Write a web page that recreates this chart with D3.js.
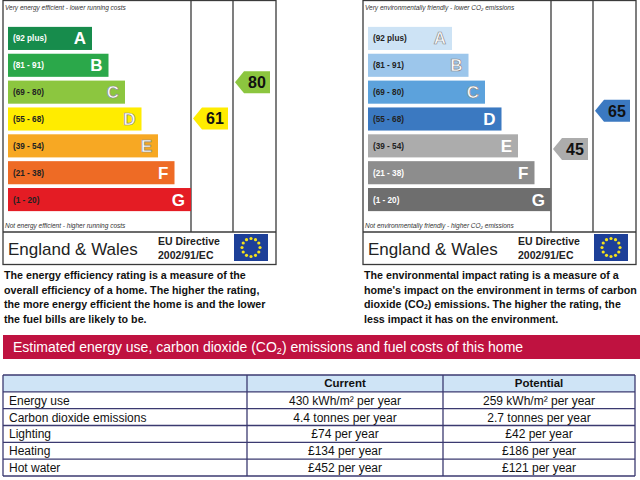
<!DOCTYPE html>
<html>
<head>
<meta charset="utf-8">
<script src="https://cdn.jsdelivr.net/npm/d3@7"></script>
<style>
  body { margin: 0; background: #fff; }
  svg { display: block; }
  text { font-family: "Liberation Sans", Arial, sans-serif; }
</style>
</head>
<body>
<svg id="vis-svg" width="640" height="480"></svg>
<script>
// band letters and the rating ranges they cover
const bandLetters = ['A', 'B', 'C', 'D', 'E', 'F', 'G'];
const bandRanges = ['(92 plus)', '(81 - 91)', '(69 - 80)', '(55 - 68)', '(39 - 54)', '(21 - 38)', '(1 - 20)'];
const bandMins = [92, 81, 69, 55, 39, 21, 1];

// colours of the two charts
const energyColours = ['#178c4c', '#2ba84a', '#8cc63f', '#ffec00', '#f7a823', '#ee6b25', '#e41c24'];
const envColours = ['#cde3f5', '#9cc6eb', '#5ca2dc', '#3b79c1', '#acacac', '#8d8d8d', '#6e6e6e'];

// ratings: [current, potential]
const energyRatings = [61, 80];
const envRatings = [45, 65];

// descriptions under the charts
const energyNote = [
  'The energy efficiency rating is a measure of the',
  'overall efficiency of a home. The higher the rating,',
  'the more energy efficient the home is and the lower',
  'the fuel bills are likely to be.'
];
const envNote = [
  'The environmental impact rating is a measure of a',
  'home\'s impact on the environment in terms of carbon',
  'dioxide (CO|2|) emissions. The higher the rating, the',
  'less impact it has on the environment.'
];

// table
const tableHeads = ['', 'Current', 'Potential'];
const tableLabels = ['Energy use', 'Carbon dioxide emissions', 'Lighting', 'Heating', 'Hot water'];
const currentValues = ['430 kWh/m² per year', '4.4 tonnes per year', '£74 per year', '£134 per year', '£452 per year'];
const potentialValues = ['259 kWh/m² per year', '2.7 tonnes per year', '£42 per year', '£186 per year', '£121 per year'];

const svg = d3.select('#vis-svg');

// shared scales for the band charts (x measured inside a chart frame)
const y = d3.scaleBand().domain(bandLetters).range([25, 213]).paddingInner(0.14).paddingOuter(0.07);
const barEnd = d3.scaleLinear().domain([0, 6]).range([92, 191]);
const ratingY = d3.scaleLinear().domain([0, 100]).range([235, 44]);

// writes text with |sub| parts as small lowered digits
function richText(sel, str) {
  str.split('|').forEach((part, i) => {
    const t = sel.append('tspan').text(part);
    if (i % 2 === 1) t.attr('dy', '0.2em').style('font-size', '0.65em');
    else if (i > 0) t.attr('dy', '-0.13em');
  });
}

function bandOf(v) {
  return bandMins.findIndex(m => v >= m);
}

function drawChart(x0, opts) {
  const g = svg.append('g').attr('transform', `translate(${x0}, 0)`);

  // frame
  g.append('rect').attr('x', 3).attr('y', 0.5).attr('width', 273).attr('height', 264)
      .attr('fill', 'none').attr('stroke', '#3a3a3a').attr('stroke-width', 1.3);
  g.append('line').attr('x1', 3).attr('x2', 276).attr('y1', 232).attr('y2', 232)
      .attr('stroke', '#3a3a3a').attr('stroke-width', 1.3);
  [191, 233].forEach(cx => {
    g.append('line').attr('x1', cx).attr('x2', cx).attr('y1', 0).attr('y2', 232)
        .attr('stroke', '#3a3a3a').attr('stroke-width', 1.3);
  });

  g.append('text').attr('x', 5).attr('y', 10).style('font-size', '6.5px')
      .style('font-style', 'italic').attr('fill', '#333').call(richText, opts.top);
  g.append('text').attr('x', 5).attr('y', 228).style('font-size', '6.5px')
      .style('font-style', 'italic').attr('fill', '#333').call(richText, opts.bottom);

  // bars
  const bars = g.selectAll('.band')
      .data(bandLetters)
      .enter().append('g')
      .attr('class', 'band');

  bars.append('rect')
      .attr('x', 8)
      .attr('y', d => y(d))
      .attr('width', (d, i) => barEnd(i) - 8)
      .attr('height', y.bandwidth())
      .attr('fill', (d, i) => opts.colours[i]);

  bars.append('text')
      .attr('x', 13)
      .attr('y', d => y(d) + y.bandwidth() / 2 + 3)
      .style('font-size', '8.2px')
      .style('font-weight', 'bold')
      .attr('fill', (d, i) => opts.rangeInk[i])
      .text((d, i) => bandRanges[i]);

  bars.append('text')
      .attr('x', (d, i) => barEnd(i) - 6)
      .attr('y', d => y(d) + y.bandwidth() / 2 + 6)
      .style('font-size', '17px')
      .style('font-weight', 'bold')
      .style('text-anchor', 'end')
      .attr('fill', '#fff')
      .attr('stroke', (d, i) => opts.outline[i] ? '#8a8a8a' : 'none')
      .attr('stroke-width', 0.7)
      .text(d => d);

  // current / potential arrows
  const cols = [193, 235];
  opts.ratings.forEach((v, i) => {
    const cy = ratingY(v), h = 22, left = cols[i], right = left + 35;
    g.append('path')
        .attr('d', `M${left},${cy} L${left + 9},${cy - h / 2} L${right},${cy - h / 2} L${right},${cy + h / 2} L${left + 9},${cy + h / 2} Z`)
        .attr('fill', opts.colours[bandOf(v)]);
    g.append('text')
        .attr('x', (left + 9 + right) / 2)
        .attr('y', cy + 6)
        .style('font-size', '16px')
        .style('font-weight', 'bold')
        .style('text-anchor', 'middle')
        .attr('fill', '#111')
        .text(v);
  });

  // footer
  g.append('text').attr('x', 8).attr('y', 255).style('font-size', '17px').attr('fill', '#222')
      .text('England & Wales');
  g.append('text').attr('x', 158).attr('y', 245).style('font-size', '10.5px').style('font-weight', 'bold')
      .attr('fill', '#222').text('EU Directive');
  g.append('text').attr('x', 158).attr('y', 259).style('font-size', '10.5px').style('font-weight', 'bold')
      .attr('fill', '#222').text('2002/91/EC');

  // EU flag
  g.append('rect').attr('x', 234).attr('y', 234).attr('width', 34).attr('height', 27).attr('fill', '#1d3f98');
  d3.range(12).forEach(k => {
    const a = k / 12 * 2 * Math.PI;
    g.append('circle')
        .attr('cx', 251 + 9 * Math.cos(a))
        .attr('cy', 247.5 + 9 * Math.sin(a))
        .attr('r', 1.6)
        .attr('fill', '#f5e21b');
  });

  // note under the chart
  opts.note.forEach((line, i) => {
    g.append('text')
        .attr('x', 4)
        .attr('y', 279 + i * 14.5)
        .style('font-size', '10.7px')
        .style('font-weight', 'bold')
        .attr('fill', '#111')
        .call(richText, line);
  });
}

drawChart(0, {
  colours: energyColours,
  rangeInk: ['#fff', '#fff', '#222', '#222', '#222', '#222', '#222'],
  outline: [false, false, true, true, true, false, false],
  ratings: energyRatings,
  note: energyNote,
  top: 'Very energy efficient - lower running costs',
  bottom: 'Not energy efficient - higher running costs'
});

drawChart(360, {
  colours: envColours,
  rangeInk: ['#222', '#222', '#222', '#222', '#222', '#fff', '#fff'],
  outline: [true, true, true, false, false, false, false],
  ratings: envRatings,
  note: envNote,
  top: 'Very environmentally friendly - lower CO|2| emissions',
  bottom: 'Not environmentally friendly - higher CO|2| emissions'
});

// red banner
svg.append('rect').attr('x', 3).attr('y', 335).attr('width', 637).attr('height', 24).attr('fill', '#bf1240');
svg.append('text').attr('x', 13).attr('y', 352).style('font-size', '14px').attr('fill', '#fff')
    .call(richText, 'Estimated energy use, carbon dioxide (CO|2|) emissions and fuel costs of this home');

// table
const colEdges = [3, 247, 443, 635];
const rowY = d3.scaleLinear().domain([0, tableLabels.length + 1]).range([375, 476]);
const rowH = rowY(1) - rowY(0);

svg.append('rect').attr('x', colEdges[0]).attr('y', rowY(0)).attr('width', colEdges[3] - colEdges[0])
    .attr('height', rowH).attr('fill', '#cfe4f6');

tableHeads.forEach((h, c) => {
  if (!h) return;
  svg.append('text')
      .attr('x', (colEdges[c] + colEdges[c + 1]) / 2)
      .attr('y', rowY(0) + rowH / 2 + 4)
      .style('font-size', '11.5px').style('font-weight', 'bold')
      .style('text-anchor', 'middle').attr('fill', '#111')
      .text(h);
});

tableLabels.forEach((label, r) => {
  const ty = rowY(r + 1) + rowH / 2 + 4.5;
  svg.append('text').attr('x', 9).attr('y', ty).style('font-size', '12px').attr('fill', '#111').text(label);
  svg.append('text').attr('x', (colEdges[1] + colEdges[2]) / 2).attr('y', ty).style('font-size', '12px')
      .style('text-anchor', 'middle').attr('fill', '#111').text(currentValues[r]);
  svg.append('text').attr('x', (colEdges[2] + colEdges[3]) / 2).attr('y', ty).style('font-size', '12px')
      .style('text-anchor', 'middle').attr('fill', '#111').text(potentialValues[r]);
});

// grid lines
d3.range(tableLabels.length + 2).forEach(r => {
  svg.append('line').attr('x1', colEdges[0]).attr('x2', colEdges[3]).attr('y1', rowY(r)).attr('y2', rowY(r))
      .attr('stroke', '#3b3a70').attr('stroke-width', 1.3);
});
colEdges.forEach(cx => {
  svg.append('line').attr('x1', cx).attr('x2', cx).attr('y1', rowY(0)).attr('y2', rowY(tableLabels.length + 1))
      .attr('stroke', '#3b3a70').attr('stroke-width', 1.3);
});
</script>
</body>
</html>
